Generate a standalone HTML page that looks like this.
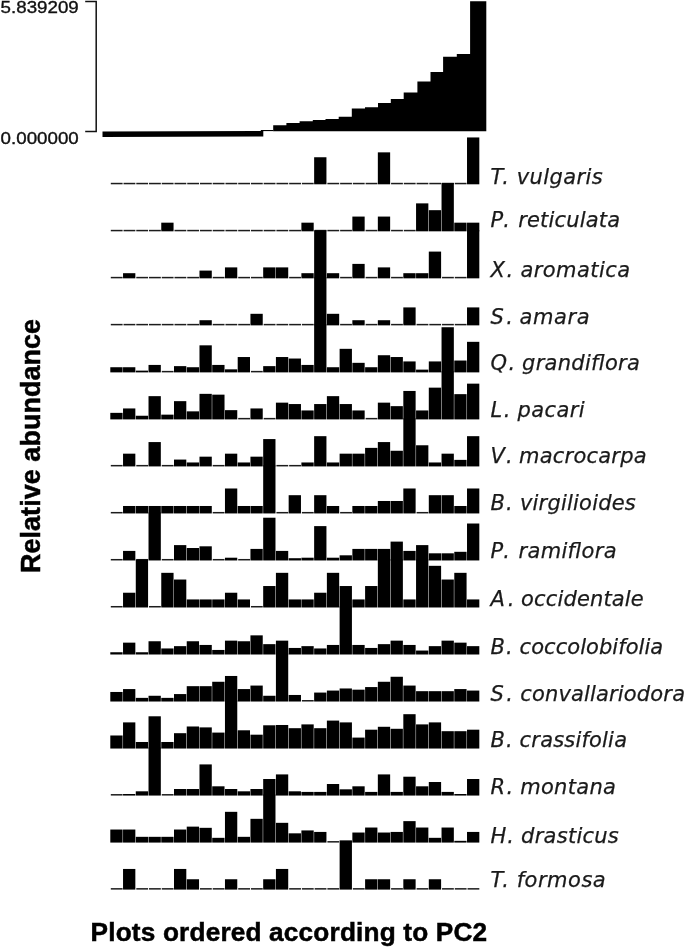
<!DOCTYPE html>
<html lang="en">
<head>
<meta charset="utf-8">
<title>Relative abundance of species - plots ordered according to PC2</title>
<style>
html,body{margin:0;padding:0;background:#fff;}
body{width:685px;height:949px;overflow:hidden;}
svg{display:block;}
.sp{font-family:"DejaVu Sans","Liberation Sans",sans-serif;font-style:italic;font-size:21px;fill:#1a1a1a;stroke:#1a1a1a;stroke-width:0.25px;}
.ax{font-family:"Liberation Sans","DejaVu Sans",sans-serif;font-size:16.5px;fill:#111;stroke:#111;stroke-width:0.35px;}
.ttl{font-family:"Liberation Sans","DejaVu Sans",sans-serif;font-weight:bold;fill:#000;}
</style>
</head>
<body>
<svg width="685" height="949" viewBox="0 0 685 949">
<rect x="0" y="0" width="685" height="949" fill="#ffffff"/>

<g fill="#000">
<polygon points="102.5,131.4 263.3,130.9 263.3,136.5 102.5,137.1"/>
<rect x="260.8" y="130.0" width="12.6" height="1.1"/>
<polygon points="273.2,131.3 273.2,125.2 286.4,125.2 286.4,123.1 299.6,123.1 299.6,121.3 312.8,121.3 312.8,120.1 325.5,120.1 325.5,119.0 338.7,119.0 338.7,116.8 351.8,116.8 351.8,108.5 365.0,108.5 365.0,107.2 378.0,107.2 378.0,103.0 390.8,103.0 390.8,98.9 403.7,98.9 403.7,92.6 417.4,92.6 417.4,81.6 430.5,81.6 430.5,72.1 443.1,72.1 443.1,56.8 456.8,56.8 456.8,54.0 470.1,54.0 470.1,1.2 486.3,1.2 486.3,131.3"/>
</g>
<g stroke="#111" stroke-width="1.5" fill="none"><path d="M85.2 1.4H96.2V131.6H85.2"/></g>
<text class="ax" x="0.6" y="12.6" textLength="78.2" lengthAdjust="spacingAndGlyphs">5.839209</text>
<text class="ax" x="0.6" y="143.6" textLength="78.2" lengthAdjust="spacingAndGlyphs">0.000000</text>
<g fill="#000">
<rect x="110.80" y="182.80" width="11.80" height="1.50" fill="#1c1c1c"/>
<rect x="123.54" y="182.80" width="11.80" height="1.50" fill="#1c1c1c"/>
<rect x="136.28" y="182.80" width="11.80" height="1.50" fill="#1c1c1c"/>
<rect x="149.02" y="182.80" width="11.80" height="1.50" fill="#1c1c1c"/>
<rect x="161.76" y="182.80" width="11.80" height="1.50" fill="#1c1c1c"/>
<rect x="174.50" y="182.80" width="11.80" height="1.50" fill="#1c1c1c"/>
<rect x="187.24" y="182.80" width="11.80" height="1.50" fill="#1c1c1c"/>
<rect x="199.98" y="182.80" width="11.80" height="1.50" fill="#1c1c1c"/>
<rect x="212.72" y="182.80" width="11.80" height="1.50" fill="#1c1c1c"/>
<rect x="225.46" y="182.80" width="11.80" height="1.50" fill="#1c1c1c"/>
<rect x="238.20" y="182.80" width="11.80" height="1.50" fill="#1c1c1c"/>
<rect x="250.94" y="182.80" width="11.80" height="1.50" fill="#1c1c1c"/>
<rect x="263.68" y="182.80" width="11.80" height="1.50" fill="#1c1c1c"/>
<rect x="276.42" y="182.80" width="11.80" height="1.50" fill="#1c1c1c"/>
<rect x="289.16" y="182.80" width="11.80" height="1.50" fill="#1c1c1c"/>
<rect x="301.90" y="182.80" width="11.80" height="1.50" fill="#1c1c1c"/>
<rect x="314.14" y="157.25" width="12.30" height="27.05"/>
<rect x="327.38" y="182.80" width="11.80" height="1.50" fill="#1c1c1c"/>
<rect x="340.12" y="182.80" width="11.80" height="1.50" fill="#1c1c1c"/>
<rect x="352.86" y="182.80" width="11.80" height="1.50" fill="#1c1c1c"/>
<rect x="365.60" y="182.80" width="11.80" height="1.50" fill="#1c1c1c"/>
<rect x="377.84" y="152.35" width="12.30" height="31.95"/>
<rect x="391.08" y="182.80" width="11.80" height="1.50" fill="#1c1c1c"/>
<rect x="403.82" y="182.80" width="11.80" height="1.50" fill="#1c1c1c"/>
<rect x="416.56" y="182.80" width="11.80" height="1.50" fill="#1c1c1c"/>
<rect x="429.30" y="182.80" width="11.80" height="1.50" fill="#1c1c1c"/>
<rect x="442.04" y="182.80" width="11.80" height="1.50" fill="#1c1c1c"/>
<rect x="454.78" y="182.80" width="11.80" height="1.50" fill="#1c1c1c"/>
<rect x="467.02" y="137.45" width="12.30" height="46.85"/>
</g>
<text class="sp" y="183.6"><tspan x="490.5">T</tspan><tspan dx="1.5">.</tspan> <tspan x="516.7" textLength="86.1" lengthAdjust="spacing">vulgaris</tspan></text>
<g fill="#000">
<rect x="110.80" y="229.82" width="11.80" height="1.50" fill="#1c1c1c"/>
<rect x="123.54" y="229.82" width="11.80" height="1.50" fill="#1c1c1c"/>
<rect x="136.28" y="229.82" width="11.80" height="1.50" fill="#1c1c1c"/>
<rect x="149.02" y="229.82" width="11.80" height="1.50" fill="#1c1c1c"/>
<rect x="161.26" y="222.67" width="12.30" height="8.65"/>
<rect x="174.50" y="229.82" width="11.80" height="1.50" fill="#1c1c1c"/>
<rect x="187.24" y="229.82" width="11.80" height="1.50" fill="#1c1c1c"/>
<rect x="199.98" y="229.82" width="11.80" height="1.50" fill="#1c1c1c"/>
<rect x="212.72" y="229.82" width="11.80" height="1.50" fill="#1c1c1c"/>
<rect x="225.46" y="229.82" width="11.80" height="1.50" fill="#1c1c1c"/>
<rect x="238.20" y="229.82" width="11.80" height="1.50" fill="#1c1c1c"/>
<rect x="250.94" y="229.82" width="11.80" height="1.50" fill="#1c1c1c"/>
<rect x="263.68" y="229.82" width="11.80" height="1.50" fill="#1c1c1c"/>
<rect x="276.42" y="229.82" width="11.80" height="1.50" fill="#1c1c1c"/>
<rect x="289.16" y="229.82" width="11.80" height="1.50" fill="#1c1c1c"/>
<rect x="301.40" y="222.67" width="12.30" height="8.65"/>
<rect x="314.64" y="229.82" width="11.80" height="1.50" fill="#1c1c1c"/>
<rect x="327.38" y="229.82" width="11.80" height="1.50" fill="#1c1c1c"/>
<rect x="340.12" y="229.82" width="11.80" height="1.50" fill="#1c1c1c"/>
<rect x="352.36" y="216.57" width="12.30" height="14.75"/>
<rect x="365.60" y="229.82" width="11.80" height="1.50" fill="#1c1c1c"/>
<rect x="377.84" y="216.57" width="12.30" height="14.75"/>
<rect x="391.08" y="229.82" width="11.80" height="1.50" fill="#1c1c1c"/>
<rect x="403.82" y="229.82" width="11.80" height="1.50" fill="#1c1c1c"/>
<rect x="416.06" y="203.37" width="12.30" height="27.95"/>
<rect x="428.80" y="210.17" width="12.30" height="21.15"/>
<rect x="441.54" y="182.97" width="12.30" height="48.35"/>
<rect x="454.28" y="222.67" width="12.30" height="8.65"/>
<rect x="467.02" y="222.67" width="12.30" height="8.65"/>
</g>
<text class="sp" y="226.5"><tspan x="490.5">P</tspan><tspan dx="3.0">.</tspan> <tspan x="518.2" textLength="101.8" lengthAdjust="spacing">reticulata</tspan></text>
<g fill="#000">
<rect x="110.80" y="276.84" width="11.80" height="1.50" fill="#1c1c1c"/>
<rect x="123.04" y="273.19" width="12.30" height="5.15"/>
<rect x="136.28" y="276.84" width="11.80" height="1.50" fill="#1c1c1c"/>
<rect x="149.02" y="276.84" width="11.80" height="1.50" fill="#1c1c1c"/>
<rect x="161.76" y="276.84" width="11.80" height="1.50" fill="#1c1c1c"/>
<rect x="174.50" y="276.84" width="11.80" height="1.50" fill="#1c1c1c"/>
<rect x="187.24" y="276.84" width="11.80" height="1.50" fill="#1c1c1c"/>
<rect x="199.48" y="270.59" width="12.30" height="7.75"/>
<rect x="212.72" y="276.84" width="11.80" height="1.50" fill="#1c1c1c"/>
<rect x="224.96" y="267.39" width="12.30" height="10.95"/>
<rect x="238.20" y="276.84" width="11.80" height="1.50" fill="#1c1c1c"/>
<rect x="250.94" y="276.84" width="11.80" height="1.50" fill="#1c1c1c"/>
<rect x="263.18" y="267.39" width="12.30" height="10.95"/>
<rect x="275.92" y="267.39" width="12.30" height="10.95"/>
<rect x="289.16" y="276.84" width="11.80" height="1.50" fill="#1c1c1c"/>
<rect x="301.40" y="273.19" width="12.30" height="5.15"/>
<rect x="314.14" y="230.29" width="12.30" height="48.05"/>
<rect x="326.88" y="273.19" width="12.30" height="5.15"/>
<rect x="340.12" y="276.84" width="11.80" height="1.50" fill="#1c1c1c"/>
<rect x="352.36" y="263.89" width="12.30" height="14.45"/>
<rect x="365.60" y="276.84" width="11.80" height="1.50" fill="#1c1c1c"/>
<rect x="377.84" y="267.39" width="12.30" height="10.95"/>
<rect x="391.08" y="276.84" width="11.80" height="1.50" fill="#1c1c1c"/>
<rect x="403.32" y="273.19" width="12.30" height="5.15"/>
<rect x="416.06" y="273.19" width="12.30" height="5.15"/>
<rect x="428.80" y="251.59" width="12.30" height="26.75"/>
<rect x="442.04" y="276.84" width="11.80" height="1.50" fill="#1c1c1c"/>
<rect x="454.78" y="276.84" width="11.80" height="1.50" fill="#1c1c1c"/>
<rect x="467.02" y="230.29" width="12.30" height="48.05"/>
</g>
<text class="sp" y="277.0"><tspan x="490.5">X</tspan><tspan dx="1.5">.</tspan> <tspan x="520.5" textLength="109.5" lengthAdjust="spacing">aromatica</tspan></text>
<g fill="#000">
<rect x="110.80" y="323.86" width="11.80" height="1.50" fill="#1c1c1c"/>
<rect x="123.54" y="323.86" width="11.80" height="1.50" fill="#1c1c1c"/>
<rect x="136.28" y="323.86" width="11.80" height="1.50" fill="#1c1c1c"/>
<rect x="149.02" y="323.86" width="11.80" height="1.50" fill="#1c1c1c"/>
<rect x="161.76" y="323.86" width="11.80" height="1.50" fill="#1c1c1c"/>
<rect x="174.50" y="323.86" width="11.80" height="1.50" fill="#1c1c1c"/>
<rect x="187.24" y="323.86" width="11.80" height="1.50" fill="#1c1c1c"/>
<rect x="199.48" y="320.21" width="12.30" height="5.15"/>
<rect x="212.72" y="323.86" width="11.80" height="1.50" fill="#1c1c1c"/>
<rect x="225.46" y="323.86" width="11.80" height="1.50" fill="#1c1c1c"/>
<rect x="238.20" y="323.86" width="11.80" height="1.50" fill="#1c1c1c"/>
<rect x="250.44" y="313.81" width="12.30" height="11.55"/>
<rect x="263.68" y="323.86" width="11.80" height="1.50" fill="#1c1c1c"/>
<rect x="276.42" y="323.86" width="11.80" height="1.50" fill="#1c1c1c"/>
<rect x="289.16" y="323.86" width="11.80" height="1.50" fill="#1c1c1c"/>
<rect x="301.90" y="323.86" width="11.80" height="1.50" fill="#1c1c1c"/>
<rect x="314.14" y="277.31" width="12.30" height="48.05"/>
<rect x="326.88" y="313.81" width="12.30" height="11.55"/>
<rect x="340.12" y="323.86" width="11.80" height="1.50" fill="#1c1c1c"/>
<rect x="352.36" y="320.21" width="12.30" height="5.15"/>
<rect x="365.60" y="323.86" width="11.80" height="1.50" fill="#1c1c1c"/>
<rect x="377.84" y="320.21" width="12.30" height="5.15"/>
<rect x="391.08" y="323.86" width="11.80" height="1.50" fill="#1c1c1c"/>
<rect x="403.32" y="307.41" width="12.30" height="17.95"/>
<rect x="416.56" y="323.86" width="11.80" height="1.50" fill="#1c1c1c"/>
<rect x="429.30" y="323.86" width="11.80" height="1.50" fill="#1c1c1c"/>
<rect x="442.04" y="323.86" width="11.80" height="1.50" fill="#1c1c1c"/>
<rect x="454.78" y="323.86" width="11.80" height="1.50" fill="#1c1c1c"/>
<rect x="467.02" y="307.41" width="12.30" height="17.95"/>
</g>
<text class="sp" y="323.6"><tspan x="490.5">S</tspan><tspan dx="2.5">.</tspan> <tspan x="519.6" textLength="70.0" lengthAdjust="spacing">amara</tspan></text>
<g fill="#000">
<rect x="110.30" y="367.23" width="12.30" height="5.15"/>
<rect x="123.04" y="367.23" width="12.30" height="5.15"/>
<rect x="135.78" y="370.63" width="12.30" height="1.75"/>
<rect x="148.52" y="364.93" width="12.30" height="7.45"/>
<rect x="161.76" y="370.88" width="11.80" height="1.50" fill="#1c1c1c"/>
<rect x="174.00" y="366.13" width="12.30" height="6.25"/>
<rect x="186.74" y="367.23" width="12.30" height="5.15"/>
<rect x="199.48" y="345.33" width="12.30" height="27.05"/>
<rect x="212.22" y="364.93" width="12.30" height="7.45"/>
<rect x="224.96" y="369.33" width="12.30" height="3.05"/>
<rect x="237.70" y="357.03" width="12.30" height="15.35"/>
<rect x="250.94" y="370.88" width="11.80" height="1.50" fill="#1c1c1c"/>
<rect x="263.18" y="366.13" width="12.30" height="6.25"/>
<rect x="275.92" y="357.03" width="12.30" height="15.35"/>
<rect x="288.66" y="358.53" width="12.30" height="13.85"/>
<rect x="301.40" y="364.93" width="12.30" height="7.45"/>
<rect x="314.14" y="324.33" width="12.30" height="48.05"/>
<rect x="326.88" y="367.23" width="12.30" height="5.15"/>
<rect x="339.62" y="348.83" width="12.30" height="23.55"/>
<rect x="352.36" y="362.83" width="12.30" height="9.55"/>
<rect x="365.10" y="367.23" width="12.30" height="5.15"/>
<rect x="377.84" y="355.23" width="12.30" height="17.15"/>
<rect x="390.58" y="357.03" width="12.30" height="15.35"/>
<rect x="403.32" y="361.43" width="12.30" height="10.95"/>
<rect x="416.06" y="369.63" width="12.30" height="2.75"/>
<rect x="428.80" y="361.43" width="12.30" height="10.95"/>
<rect x="441.54" y="327.23" width="12.30" height="45.15"/>
<rect x="454.28" y="360.53" width="12.30" height="11.85"/>
<rect x="467.02" y="341.83" width="12.30" height="30.55"/>
</g>
<text class="sp" y="370.3"><tspan x="490.5">Q</tspan><tspan dx="1.5">.</tspan> <tspan x="522.0" textLength="117.9" lengthAdjust="spacing">grandiflora</tspan></text>
<g fill="#000">
<rect x="110.30" y="412.85" width="12.30" height="6.55"/>
<rect x="123.04" y="408.45" width="12.30" height="10.95"/>
<rect x="135.78" y="415.75" width="12.30" height="3.65"/>
<rect x="148.52" y="396.15" width="12.30" height="23.25"/>
<rect x="161.26" y="414.65" width="12.30" height="4.75"/>
<rect x="174.00" y="401.15" width="12.30" height="18.25"/>
<rect x="186.74" y="411.35" width="12.30" height="8.05"/>
<rect x="199.48" y="393.85" width="12.30" height="25.55"/>
<rect x="212.22" y="394.65" width="12.30" height="24.75"/>
<rect x="224.96" y="410.15" width="12.30" height="9.25"/>
<rect x="238.20" y="417.90" width="11.80" height="1.50" fill="#1c1c1c"/>
<rect x="250.44" y="408.45" width="12.30" height="10.95"/>
<rect x="263.68" y="417.90" width="11.80" height="1.50" fill="#1c1c1c"/>
<rect x="275.92" y="402.65" width="12.30" height="16.75"/>
<rect x="288.66" y="404.05" width="12.30" height="15.35"/>
<rect x="301.40" y="410.45" width="12.30" height="8.95"/>
<rect x="314.14" y="404.05" width="12.30" height="15.35"/>
<rect x="326.88" y="396.15" width="12.30" height="23.25"/>
<rect x="339.62" y="404.05" width="12.30" height="15.35"/>
<rect x="352.36" y="410.45" width="12.30" height="8.95"/>
<rect x="365.60" y="417.90" width="11.80" height="1.50" fill="#1c1c1c"/>
<rect x="377.84" y="402.65" width="12.30" height="16.75"/>
<rect x="390.58" y="406.15" width="12.30" height="13.25"/>
<rect x="403.32" y="390.95" width="12.30" height="28.45"/>
<rect x="416.06" y="410.45" width="12.30" height="8.95"/>
<rect x="428.80" y="387.65" width="12.30" height="31.75"/>
<rect x="441.54" y="371.35" width="12.30" height="48.05"/>
<rect x="454.28" y="394.15" width="12.30" height="25.25"/>
<rect x="467.02" y="383.65" width="12.30" height="35.75"/>
</g>
<text class="sp" y="417.0"><tspan x="490.5">L</tspan><tspan dx="1.5">.</tspan> <tspan x="517.6" textLength="67.1" lengthAdjust="spacing">pacari</tspan></text>
<g fill="#000">
<rect x="110.80" y="464.92" width="11.80" height="1.50" fill="#1c1c1c"/>
<rect x="123.04" y="453.67" width="12.30" height="12.75"/>
<rect x="136.28" y="464.92" width="11.80" height="1.50" fill="#1c1c1c"/>
<rect x="148.52" y="442.07" width="12.30" height="24.35"/>
<rect x="161.76" y="464.92" width="11.80" height="1.50" fill="#1c1c1c"/>
<rect x="174.00" y="459.57" width="12.30" height="6.85"/>
<rect x="186.74" y="462.47" width="12.30" height="3.95"/>
<rect x="199.48" y="456.67" width="12.30" height="9.75"/>
<rect x="212.72" y="464.92" width="11.80" height="1.50" fill="#1c1c1c"/>
<rect x="224.96" y="453.67" width="12.30" height="12.75"/>
<rect x="237.70" y="462.47" width="12.30" height="3.95"/>
<rect x="250.44" y="456.67" width="12.30" height="9.75"/>
<rect x="263.18" y="439.07" width="12.30" height="27.35"/>
<rect x="276.42" y="464.92" width="11.80" height="1.50" fill="#1c1c1c"/>
<rect x="289.16" y="464.92" width="11.80" height="1.50" fill="#1c1c1c"/>
<rect x="301.40" y="462.47" width="12.30" height="3.95"/>
<rect x="314.14" y="436.17" width="12.30" height="30.25"/>
<rect x="326.88" y="462.47" width="12.30" height="3.95"/>
<rect x="339.62" y="453.67" width="12.30" height="12.75"/>
<rect x="352.36" y="453.67" width="12.30" height="12.75"/>
<rect x="365.10" y="447.87" width="12.30" height="18.55"/>
<rect x="377.84" y="442.07" width="12.30" height="24.35"/>
<rect x="390.58" y="450.77" width="12.30" height="15.65"/>
<rect x="403.32" y="418.37" width="12.30" height="48.05"/>
<rect x="416.06" y="445.27" width="12.30" height="21.15"/>
<rect x="428.80" y="462.47" width="12.30" height="3.95"/>
<rect x="441.54" y="453.67" width="12.30" height="12.75"/>
<rect x="454.28" y="459.87" width="12.30" height="6.55"/>
<rect x="467.02" y="436.17" width="12.30" height="30.25"/>
</g>
<text class="sp" y="462.7"><tspan x="490.5">V</tspan><tspan dx="3.5">.</tspan> <tspan x="519.0" textLength="127.6" lengthAdjust="spacing">macrocarpa</tspan></text>
<g fill="#000">
<rect x="110.80" y="511.94" width="11.80" height="1.50" fill="#1c1c1c"/>
<rect x="123.04" y="505.99" width="12.30" height="7.45"/>
<rect x="135.78" y="505.99" width="12.30" height="7.45"/>
<rect x="148.52" y="505.99" width="12.30" height="7.45"/>
<rect x="161.26" y="505.99" width="12.30" height="7.45"/>
<rect x="174.00" y="505.99" width="12.30" height="7.45"/>
<rect x="186.74" y="505.99" width="12.30" height="7.45"/>
<rect x="199.48" y="505.99" width="12.30" height="7.45"/>
<rect x="212.72" y="511.94" width="11.80" height="1.50" fill="#1c1c1c"/>
<rect x="224.96" y="488.49" width="12.30" height="24.95"/>
<rect x="237.70" y="505.99" width="12.30" height="7.45"/>
<rect x="250.44" y="505.99" width="12.30" height="7.45"/>
<rect x="263.18" y="465.39" width="12.30" height="48.05"/>
<rect x="276.42" y="511.94" width="11.80" height="1.50" fill="#1c1c1c"/>
<rect x="288.66" y="495.19" width="12.30" height="18.25"/>
<rect x="301.90" y="511.94" width="11.80" height="1.50" fill="#1c1c1c"/>
<rect x="314.14" y="495.19" width="12.30" height="18.25"/>
<rect x="326.88" y="505.99" width="12.30" height="7.45"/>
<rect x="340.12" y="511.94" width="11.80" height="1.50" fill="#1c1c1c"/>
<rect x="352.36" y="505.99" width="12.30" height="7.45"/>
<rect x="365.10" y="505.99" width="12.30" height="7.45"/>
<rect x="377.84" y="500.99" width="12.30" height="12.45"/>
<rect x="390.58" y="500.99" width="12.30" height="12.45"/>
<rect x="403.32" y="488.49" width="12.30" height="24.95"/>
<rect x="416.56" y="511.94" width="11.80" height="1.50" fill="#1c1c1c"/>
<rect x="428.80" y="495.19" width="12.30" height="18.25"/>
<rect x="441.54" y="495.19" width="12.30" height="18.25"/>
<rect x="454.28" y="505.99" width="12.30" height="7.45"/>
<rect x="467.02" y="488.49" width="12.30" height="24.95"/>
</g>
<text class="sp" y="510.3"><tspan x="490.5">B</tspan><tspan dx="1.0">.</tspan> <tspan x="519.9" textLength="115.9" lengthAdjust="spacing">virgilioides</tspan></text>
<g fill="#000">
<rect x="110.80" y="558.96" width="11.80" height="1.50" fill="#1c1c1c"/>
<rect x="123.04" y="550.91" width="12.30" height="9.55"/>
<rect x="136.28" y="558.96" width="11.80" height="1.50" fill="#1c1c1c"/>
<rect x="148.52" y="512.41" width="12.30" height="48.05"/>
<rect x="161.76" y="558.96" width="11.80" height="1.50" fill="#1c1c1c"/>
<rect x="174.00" y="545.11" width="12.30" height="15.35"/>
<rect x="186.74" y="548.01" width="12.30" height="12.45"/>
<rect x="199.48" y="546.31" width="12.30" height="14.15"/>
<rect x="212.72" y="558.96" width="11.80" height="1.50" fill="#1c1c1c"/>
<rect x="224.96" y="557.71" width="12.30" height="2.75"/>
<rect x="238.20" y="558.96" width="11.80" height="1.50" fill="#1c1c1c"/>
<rect x="250.44" y="548.91" width="12.30" height="11.55"/>
<rect x="263.18" y="517.71" width="12.30" height="42.75"/>
<rect x="275.92" y="550.91" width="12.30" height="9.55"/>
<rect x="288.66" y="558.21" width="12.30" height="2.25"/>
<rect x="301.40" y="557.71" width="12.30" height="2.75"/>
<rect x="314.14" y="526.11" width="12.30" height="34.35"/>
<rect x="326.88" y="557.71" width="12.30" height="2.75"/>
<rect x="339.62" y="555.31" width="12.30" height="5.15"/>
<rect x="352.36" y="548.91" width="12.30" height="11.55"/>
<rect x="365.10" y="548.91" width="12.30" height="11.55"/>
<rect x="377.84" y="548.91" width="12.30" height="11.55"/>
<rect x="390.58" y="541.61" width="12.30" height="18.85"/>
<rect x="403.32" y="550.91" width="12.30" height="9.55"/>
<rect x="416.06" y="545.11" width="12.30" height="15.35"/>
<rect x="428.80" y="553.31" width="12.30" height="7.15"/>
<rect x="441.54" y="553.31" width="12.30" height="7.15"/>
<rect x="454.28" y="551.81" width="12.30" height="8.65"/>
<rect x="467.02" y="523.51" width="12.30" height="36.95"/>
</g>
<text class="sp" y="557.9"><tspan x="490.5">P</tspan><tspan dx="3.0">.</tspan> <tspan x="518.5" textLength="98.0" lengthAdjust="spacing">ramiflora</tspan></text>
<g fill="#000">
<rect x="110.80" y="605.98" width="11.80" height="1.50" fill="#1c1c1c"/>
<rect x="123.04" y="592.73" width="12.30" height="14.75"/>
<rect x="135.78" y="559.43" width="12.30" height="48.05"/>
<rect x="149.02" y="605.98" width="11.80" height="1.50" fill="#1c1c1c"/>
<rect x="161.26" y="572.83" width="12.30" height="34.65"/>
<rect x="174.00" y="579.53" width="12.30" height="27.95"/>
<rect x="186.74" y="599.43" width="12.30" height="8.05"/>
<rect x="199.48" y="599.43" width="12.30" height="8.05"/>
<rect x="212.22" y="599.43" width="12.30" height="8.05"/>
<rect x="224.96" y="592.73" width="12.30" height="14.75"/>
<rect x="237.70" y="599.43" width="12.30" height="8.05"/>
<rect x="250.94" y="605.98" width="11.80" height="1.50" fill="#1c1c1c"/>
<rect x="263.18" y="586.03" width="12.30" height="21.45"/>
<rect x="275.92" y="572.83" width="12.30" height="34.65"/>
<rect x="288.66" y="599.43" width="12.30" height="8.05"/>
<rect x="301.40" y="599.43" width="12.30" height="8.05"/>
<rect x="314.14" y="592.73" width="12.30" height="14.75"/>
<rect x="326.88" y="572.83" width="12.30" height="34.65"/>
<rect x="339.62" y="586.03" width="12.30" height="21.45"/>
<rect x="352.36" y="599.43" width="12.30" height="8.05"/>
<rect x="365.10" y="586.03" width="12.30" height="21.45"/>
<rect x="377.84" y="559.43" width="12.30" height="48.05"/>
<rect x="390.58" y="559.43" width="12.30" height="48.05"/>
<rect x="403.32" y="599.43" width="12.30" height="8.05"/>
<rect x="416.06" y="559.43" width="12.30" height="48.05"/>
<rect x="428.80" y="565.83" width="12.30" height="41.65"/>
<rect x="441.54" y="579.53" width="12.30" height="27.95"/>
<rect x="454.28" y="572.83" width="12.30" height="34.65"/>
<rect x="467.02" y="599.43" width="12.30" height="8.05"/>
</g>
<text class="sp" y="605.9"><tspan x="490.5">A</tspan><tspan dx="2.5">.</tspan> <tspan x="521.1" textLength="122.6" lengthAdjust="spacing">occidentale</tspan></text>
<g fill="#000">
<rect x="110.30" y="652.25" width="12.30" height="2.25"/>
<rect x="123.04" y="642.65" width="12.30" height="11.85"/>
<rect x="135.78" y="652.25" width="12.30" height="2.25"/>
<rect x="148.52" y="641.25" width="12.30" height="13.25"/>
<rect x="161.26" y="648.45" width="12.30" height="6.05"/>
<rect x="174.00" y="646.15" width="12.30" height="8.35"/>
<rect x="186.74" y="641.25" width="12.30" height="13.25"/>
<rect x="199.48" y="644.95" width="12.30" height="9.55"/>
<rect x="212.22" y="649.95" width="12.30" height="4.55"/>
<rect x="224.96" y="640.65" width="12.30" height="13.85"/>
<rect x="237.70" y="641.25" width="12.30" height="13.25"/>
<rect x="250.44" y="635.35" width="12.30" height="19.15"/>
<rect x="263.18" y="644.15" width="12.30" height="10.35"/>
<rect x="275.92" y="640.65" width="12.30" height="13.85"/>
<rect x="288.66" y="647.95" width="12.30" height="6.55"/>
<rect x="301.40" y="646.15" width="12.30" height="8.35"/>
<rect x="314.14" y="648.45" width="12.30" height="6.05"/>
<rect x="326.88" y="644.95" width="12.30" height="9.55"/>
<rect x="339.62" y="606.45" width="12.30" height="48.05"/>
<rect x="352.36" y="644.95" width="12.30" height="9.55"/>
<rect x="365.10" y="647.95" width="12.30" height="6.55"/>
<rect x="377.84" y="644.15" width="12.30" height="10.35"/>
<rect x="390.58" y="640.65" width="12.30" height="13.85"/>
<rect x="403.32" y="644.95" width="12.30" height="9.55"/>
<rect x="416.06" y="650.55" width="12.30" height="3.95"/>
<rect x="428.80" y="646.15" width="12.30" height="8.35"/>
<rect x="441.54" y="640.65" width="12.30" height="13.85"/>
<rect x="454.28" y="642.65" width="12.30" height="11.85"/>
<rect x="467.02" y="646.15" width="12.30" height="8.35"/>
</g>
<text class="sp" y="653.8"><tspan x="490.5">B</tspan><tspan dx="1.0">.</tspan> <tspan x="519.6" textLength="143.6" lengthAdjust="spacing">coccolobifolia</tspan></text>
<g fill="#000">
<rect x="110.30" y="691.97" width="12.30" height="9.55"/>
<rect x="123.04" y="689.07" width="12.30" height="12.45"/>
<rect x="135.78" y="697.87" width="12.30" height="3.65"/>
<rect x="148.52" y="695.77" width="12.30" height="5.75"/>
<rect x="161.26" y="697.87" width="12.30" height="3.65"/>
<rect x="174.00" y="694.07" width="12.30" height="7.45"/>
<rect x="186.74" y="686.17" width="12.30" height="15.35"/>
<rect x="199.48" y="686.17" width="12.30" height="15.35"/>
<rect x="212.22" y="681.77" width="12.30" height="19.75"/>
<rect x="224.96" y="675.97" width="12.30" height="25.55"/>
<rect x="237.70" y="689.07" width="12.30" height="12.45"/>
<rect x="250.44" y="685.57" width="12.30" height="15.95"/>
<rect x="263.18" y="695.77" width="12.30" height="5.75"/>
<rect x="275.92" y="653.47" width="12.30" height="48.05"/>
<rect x="288.66" y="694.97" width="12.30" height="6.55"/>
<rect x="301.90" y="700.02" width="11.80" height="1.50" fill="#1c1c1c"/>
<rect x="314.14" y="692.57" width="12.30" height="8.95"/>
<rect x="326.88" y="690.57" width="12.30" height="10.95"/>
<rect x="339.62" y="688.47" width="12.30" height="13.05"/>
<rect x="352.36" y="689.67" width="12.30" height="11.85"/>
<rect x="365.10" y="687.07" width="12.30" height="14.45"/>
<rect x="377.84" y="681.77" width="12.30" height="19.75"/>
<rect x="390.58" y="676.77" width="12.30" height="24.75"/>
<rect x="403.32" y="685.57" width="12.30" height="15.95"/>
<rect x="416.06" y="691.17" width="12.30" height="10.35"/>
<rect x="428.80" y="691.17" width="12.30" height="10.35"/>
<rect x="441.54" y="691.17" width="12.30" height="10.35"/>
<rect x="454.28" y="689.07" width="12.30" height="12.45"/>
<rect x="467.02" y="690.57" width="12.30" height="10.95"/>
</g>
<text class="sp" y="701.4"><tspan x="490.5">S</tspan><tspan dx="2.5">.</tspan> <tspan x="520.2" textLength="164.8" lengthAdjust="spacing">convallariodora</tspan></text>
<g fill="#000">
<rect x="110.30" y="735.49" width="12.30" height="13.05"/>
<rect x="123.04" y="722.39" width="12.30" height="26.15"/>
<rect x="135.78" y="741.99" width="12.30" height="6.55"/>
<rect x="148.52" y="716.29" width="12.30" height="32.25"/>
<rect x="161.26" y="741.99" width="12.30" height="6.55"/>
<rect x="174.00" y="733.19" width="12.30" height="15.35"/>
<rect x="186.74" y="726.49" width="12.30" height="22.05"/>
<rect x="199.48" y="727.39" width="12.30" height="21.15"/>
<rect x="212.22" y="732.59" width="12.30" height="15.95"/>
<rect x="224.96" y="700.49" width="12.30" height="48.05"/>
<rect x="237.70" y="730.29" width="12.30" height="18.25"/>
<rect x="250.44" y="734.69" width="12.30" height="13.85"/>
<rect x="263.18" y="725.29" width="12.30" height="23.25"/>
<rect x="275.92" y="724.99" width="12.30" height="23.55"/>
<rect x="288.66" y="728.19" width="12.30" height="20.35"/>
<rect x="301.40" y="724.39" width="12.30" height="24.15"/>
<rect x="314.14" y="728.19" width="12.30" height="20.35"/>
<rect x="326.88" y="720.59" width="12.30" height="27.95"/>
<rect x="339.62" y="722.39" width="12.30" height="26.15"/>
<rect x="352.36" y="737.59" width="12.30" height="10.95"/>
<rect x="365.10" y="729.69" width="12.30" height="18.85"/>
<rect x="377.84" y="726.79" width="12.30" height="21.75"/>
<rect x="390.58" y="728.79" width="12.30" height="19.75"/>
<rect x="403.32" y="714.19" width="12.30" height="34.35"/>
<rect x="416.06" y="724.39" width="12.30" height="24.15"/>
<rect x="428.80" y="722.39" width="12.30" height="26.15"/>
<rect x="441.54" y="731.19" width="12.30" height="17.35"/>
<rect x="454.28" y="731.19" width="12.30" height="17.35"/>
<rect x="467.02" y="729.69" width="12.30" height="18.85"/>
</g>
<text class="sp" y="746.5"><tspan x="490.5">B</tspan><tspan dx="1.0">.</tspan> <tspan x="519.6" textLength="107.4" lengthAdjust="spacing">crassifolia</tspan></text>
<g fill="#000">
<rect x="110.80" y="794.06" width="11.80" height="1.50" fill="#1c1c1c"/>
<rect x="123.04" y="794.01" width="12.30" height="1.55"/>
<rect x="135.78" y="791.31" width="12.30" height="4.25"/>
<rect x="148.52" y="747.51" width="12.30" height="48.05"/>
<rect x="161.76" y="794.06" width="11.80" height="1.50" fill="#1c1c1c"/>
<rect x="174.00" y="789.01" width="12.30" height="6.55"/>
<rect x="186.74" y="789.01" width="12.30" height="6.55"/>
<rect x="199.48" y="764.41" width="12.30" height="31.15"/>
<rect x="212.22" y="786.31" width="12.30" height="9.25"/>
<rect x="224.96" y="789.01" width="12.30" height="6.55"/>
<rect x="237.70" y="791.31" width="12.30" height="4.25"/>
<rect x="250.44" y="789.01" width="12.30" height="6.55"/>
<rect x="263.18" y="779.01" width="12.30" height="16.55"/>
<rect x="275.92" y="774.41" width="12.30" height="21.15"/>
<rect x="288.66" y="791.31" width="12.30" height="4.25"/>
<rect x="301.40" y="791.91" width="12.30" height="3.65"/>
<rect x="314.14" y="791.91" width="12.30" height="3.65"/>
<rect x="326.88" y="784.01" width="12.30" height="11.55"/>
<rect x="339.62" y="789.31" width="12.30" height="6.25"/>
<rect x="352.36" y="786.31" width="12.30" height="9.25"/>
<rect x="365.10" y="791.91" width="12.30" height="3.65"/>
<rect x="377.84" y="774.41" width="12.30" height="21.15"/>
<rect x="390.58" y="791.91" width="12.30" height="3.65"/>
<rect x="403.32" y="776.71" width="12.30" height="18.85"/>
<rect x="416.06" y="786.31" width="12.30" height="9.25"/>
<rect x="428.80" y="782.01" width="12.30" height="13.55"/>
<rect x="441.54" y="791.91" width="12.30" height="3.65"/>
<rect x="454.28" y="794.01" width="12.30" height="1.55"/>
<rect x="467.02" y="779.01" width="12.30" height="16.55"/>
</g>
<text class="sp" y="793.8"><tspan x="490.5">R</tspan><tspan dx="1.5">.</tspan> <tspan x="520.2" textLength="95.7" lengthAdjust="spacing">montana</tspan></text>
<g fill="#000">
<rect x="110.30" y="829.53" width="12.30" height="13.05"/>
<rect x="123.04" y="829.53" width="12.30" height="13.05"/>
<rect x="135.78" y="836.83" width="12.30" height="5.75"/>
<rect x="148.52" y="836.83" width="12.30" height="5.75"/>
<rect x="161.26" y="836.83" width="12.30" height="5.75"/>
<rect x="174.00" y="829.53" width="12.30" height="13.05"/>
<rect x="186.74" y="826.63" width="12.30" height="15.95"/>
<rect x="199.48" y="827.83" width="12.30" height="14.75"/>
<rect x="212.22" y="837.83" width="12.30" height="4.75"/>
<rect x="224.96" y="811.83" width="12.30" height="30.75"/>
<rect x="237.70" y="836.83" width="12.30" height="5.75"/>
<rect x="250.44" y="818.83" width="12.30" height="23.75"/>
<rect x="263.18" y="794.53" width="12.30" height="48.05"/>
<rect x="275.92" y="822.83" width="12.30" height="19.75"/>
<rect x="288.66" y="833.33" width="12.30" height="9.25"/>
<rect x="301.40" y="830.43" width="12.30" height="12.15"/>
<rect x="314.14" y="831.93" width="12.30" height="10.65"/>
<rect x="327.38" y="841.08" width="11.80" height="1.50" fill="#1c1c1c"/>
<rect x="340.12" y="841.08" width="11.80" height="1.50" fill="#1c1c1c"/>
<rect x="352.36" y="832.53" width="12.30" height="10.05"/>
<rect x="365.10" y="827.53" width="12.30" height="15.05"/>
<rect x="377.84" y="832.53" width="12.30" height="10.05"/>
<rect x="390.58" y="831.93" width="12.30" height="10.65"/>
<rect x="403.32" y="821.13" width="12.30" height="21.45"/>
<rect x="416.06" y="827.53" width="12.30" height="15.05"/>
<rect x="428.80" y="837.83" width="12.30" height="4.75"/>
<rect x="441.54" y="827.53" width="12.30" height="15.05"/>
<rect x="454.28" y="840.83" width="12.30" height="1.75"/>
<rect x="467.02" y="831.93" width="12.30" height="10.65"/>
</g>
<text class="sp" y="842.8"><tspan x="490.5">H</tspan><tspan dx="1.0">.</tspan> <tspan x="521.1" textLength="97.7" lengthAdjust="spacing">drasticus</tspan></text>
<g fill="#000">
<rect x="110.80" y="888.10" width="11.80" height="1.50" fill="#1c1c1c"/>
<rect x="123.04" y="868.95" width="12.30" height="20.65"/>
<rect x="136.28" y="888.10" width="11.80" height="1.50" fill="#1c1c1c"/>
<rect x="149.02" y="888.10" width="11.80" height="1.50" fill="#1c1c1c"/>
<rect x="161.76" y="888.10" width="11.80" height="1.50" fill="#1c1c1c"/>
<rect x="174.00" y="868.95" width="12.30" height="20.65"/>
<rect x="186.74" y="879.25" width="12.30" height="10.35"/>
<rect x="199.98" y="888.10" width="11.80" height="1.50" fill="#1c1c1c"/>
<rect x="212.72" y="888.10" width="11.80" height="1.50" fill="#1c1c1c"/>
<rect x="224.96" y="879.25" width="12.30" height="10.35"/>
<rect x="238.20" y="888.10" width="11.80" height="1.50" fill="#1c1c1c"/>
<rect x="250.94" y="888.10" width="11.80" height="1.50" fill="#1c1c1c"/>
<rect x="263.18" y="879.25" width="12.30" height="10.35"/>
<rect x="275.92" y="868.95" width="12.30" height="20.65"/>
<rect x="289.16" y="888.10" width="11.80" height="1.50" fill="#1c1c1c"/>
<rect x="301.90" y="888.10" width="11.80" height="1.50" fill="#1c1c1c"/>
<rect x="314.64" y="888.10" width="11.80" height="1.50" fill="#1c1c1c"/>
<rect x="327.38" y="888.10" width="11.80" height="1.50" fill="#1c1c1c"/>
<rect x="339.62" y="840.35" width="12.30" height="49.25"/>
<rect x="352.86" y="888.10" width="11.80" height="1.50" fill="#1c1c1c"/>
<rect x="365.10" y="879.25" width="12.30" height="10.35"/>
<rect x="377.84" y="879.25" width="12.30" height="10.35"/>
<rect x="391.08" y="888.10" width="11.80" height="1.50" fill="#1c1c1c"/>
<rect x="403.32" y="879.25" width="12.30" height="10.35"/>
<rect x="416.56" y="888.10" width="11.80" height="1.50" fill="#1c1c1c"/>
<rect x="428.80" y="879.25" width="12.30" height="10.35"/>
<rect x="442.04" y="888.10" width="11.80" height="1.50" fill="#1c1c1c"/>
<rect x="454.78" y="888.10" width="11.80" height="1.50" fill="#1c1c1c"/>
<rect x="467.52" y="888.10" width="11.80" height="1.50" fill="#1c1c1c"/>
</g>
<text class="sp" y="887.4"><tspan x="490.5">T</tspan><tspan dx="1.5">.</tspan> <tspan x="516.7" textLength="89.0" lengthAdjust="spacing">formosa</tspan></text>
<text class="ttl" font-size="26.2" x="90.6" y="941.2" textLength="396.5" lengthAdjust="spacing" stroke="#000" stroke-width="0.5">Plots ordered according to PC2</text>
<text class="ttl" font-size="26.9" transform="translate(40.3 573) rotate(-90) scale(1 1.03)" x="0" y="0" textLength="254" lengthAdjust="spacing" stroke="#000" stroke-width="0.5">Relative abundance</text>
</svg>
</body>
</html>
